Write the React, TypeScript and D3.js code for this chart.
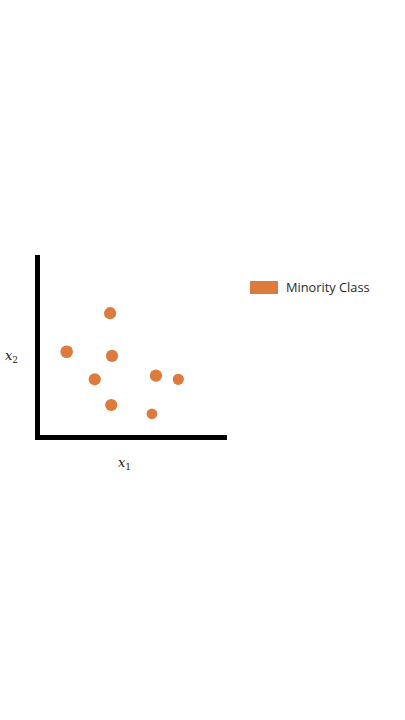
import React from "react";
import * as d3 from "d3";

const pointsX = [3.83, 1.54, 3.93, 3.02, 6.25, 7.43, 3.89, 6.04];
const pointsY = [6.81, 4.70, 4.47, 3.19, 3.39, 3.19, 1.78, 1.30];
const pointsR = [6.1, 6.3, 6.1, 6.1, 6.1, 5.6, 6.1, 5.4];
const legendLabel = "Minority Class";
const xLabel = "x";
const yLabel = "x";

const W = 405;
const H = 720;
const COLOR = "#DD7A3E";

export default function App() {
  const x = d3.scaleLinear().domain([0, 10]).range([37.5, 227]);
  const y = d3.scaleLinear().domain([0, 10]).range([437.5, 255]);
  const data = pointsX.map((v, i) => ({ x: v, y: pointsY[i], r: pointsR[i] }));
  return (
    <svg
      width={W}
      height={H}
      style={{ position: "absolute", top: 0, left: 0, background: "#fff" }}
    >
      <rect width={W} height={H} fill="#fff" />
      {/* axes */}
      <line x1={x(0)} x2={x(0)} y1={y(10)} y2={y(0) + 2.5} stroke="#000" strokeWidth={5} />
      <line x1={x(0) - 2.5} x2={x(10)} y1={y(0)} y2={y(0)} stroke="#000" strokeWidth={5} />
      {/* points */}
      {data.map((d, i) => (
        <circle key={i} cx={x(d.x)} cy={y(d.y)} r={d.r} fill={COLOR} />
      ))}
      {/* axis labels */}
      <text x={118} y={467} fontFamily="DejaVu Serif" fontStyle="italic" fontSize={13} fill="#222">
        {xLabel}
        <tspan fontStyle="normal" fontSize={9} dy={3}>1</tspan>
      </text>
      <text x={5} y={360} fontFamily="DejaVu Serif" fontStyle="italic" fontSize={13} fill="#222">
        {yLabel}
        <tspan fontStyle="normal" fontSize={9} dy={3}>2</tspan>
      </text>
      {/* legend */}
      <rect x={250} y={281} width={28} height={13} fill={COLOR} />
      <text x={286} y={292} fontFamily="Open Sans" fontSize={12.8} fill="#2a2a2a">
        {legendLabel}
      </text>
    </svg>
  );
}
